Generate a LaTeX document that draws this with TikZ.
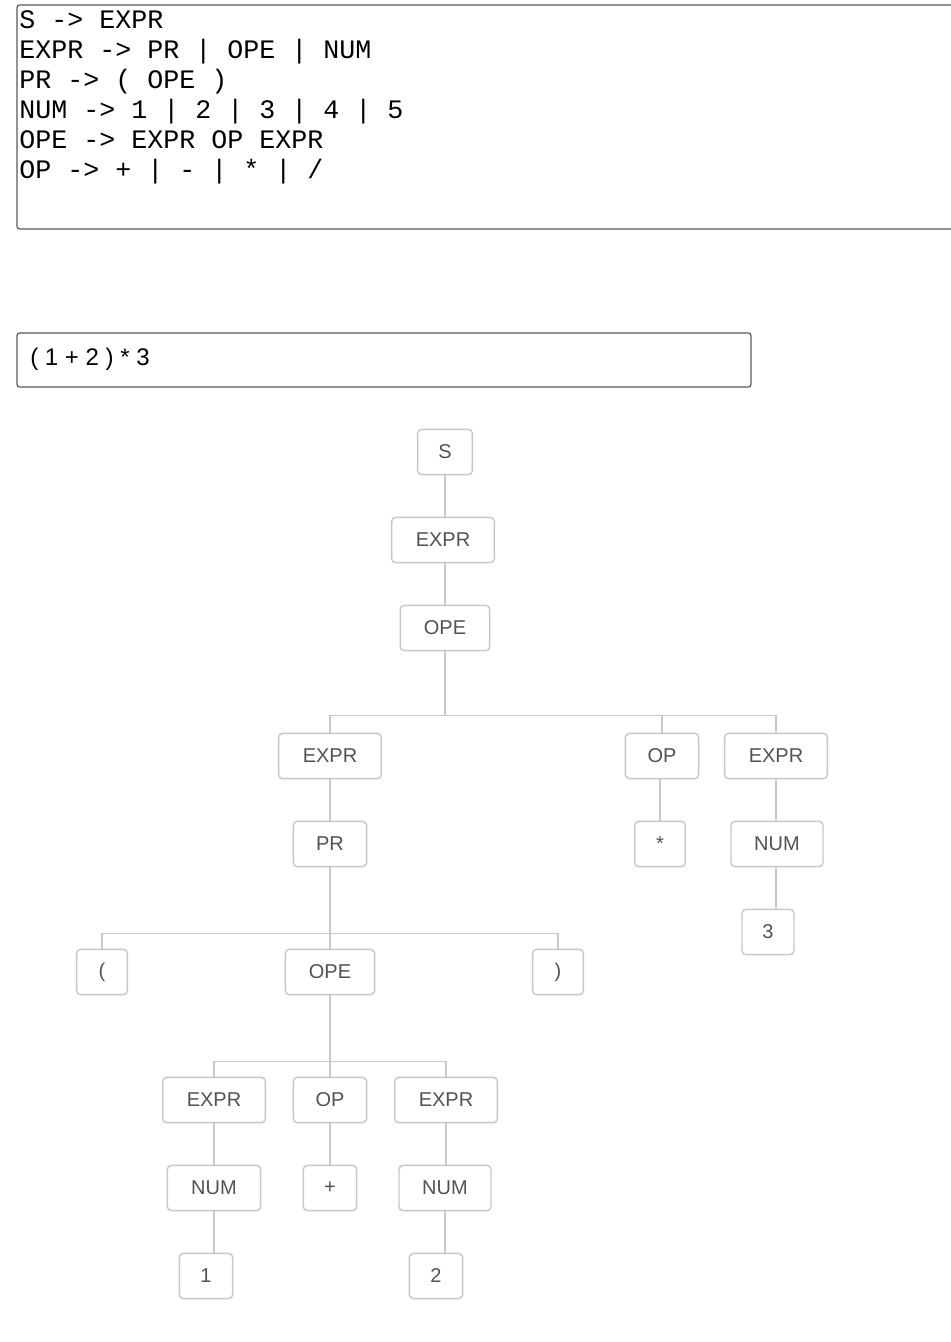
\documentclass[tikz,border=0pt]{standalone}
\usepackage{fontspec}
\setmainfont{Liberation Sans}
\newfontfamily\monof{Liberation Mono}
\begin{document}
\begin{tikzpicture}[x=0.75pt,y=-0.75pt,
  tn/.style={draw=black!22,line width=1.1pt,rounded corners=3pt,minimum height=34pt,inner sep=0pt,text=black!68,font=\fontsize{15}{18}\selectfont},
  ed/.style={draw=black!22,line width=1.1pt}]
\useasboundingbox (0,0) rectangle (950,1342);
\draw[black!65,line width=0.9pt,rounded corners=2pt] (17,5) rectangle (960,229);
\node[anchor=north west,align=left,inner sep=0pt,font=\monof\fontsize{20}{22.5}\selectfont] (g) at (19,10) {S -> EXPR\\EXPR -> PR | OPE | NUM\\PR -> ( OPE )\\NUM -> 1 | 2 | 3 | 4 | 5\\OPE -> EXPR OP EXPR\\OP -> + | - | * | /};
\draw[black!65,line width=0.9pt,rounded corners=2pt] (17,333) rectangle (751,387);
\node[anchor=west,inner sep=0pt,font=\fontsize{18}{20}\selectfont] (in) at (30,359) {( 1 + 2 ) * 3};
% nodes
\node[tn,minimum width=41pt] (s) at (445,452) {S};
\node[tn,minimum width=77pt] (e0) at (443,540) {EXPR};
\node[tn,minimum width=67pt] (o0) at (445,628) {OPE};
\node[tn,minimum width=77pt] (e1) at (330,756) {EXPR};
\node[tn,minimum width=55pt] (op1) at (662,756) {OP};
\node[tn,minimum width=77pt] (e2) at (776,756) {EXPR};
\node[tn,minimum width=55pt] (pr) at (330,844) {PR};
\node[tn,minimum width=38pt] (star) at (660,844) {*};
\node[tn,minimum width=69pt] (n3) at (777,844) {NUM};
\node[tn,minimum width=39pt] (t3) at (768,932) {3};
\node[tn,minimum width=38pt] (lp) at (102,972) {(};
\node[tn,minimum width=67pt] (o1) at (330,972) {OPE};
\node[tn,minimum width=38pt] (rp) at (558,972) {)};
\node[tn,minimum width=77pt] (e3) at (214,1100) {EXPR};
\node[tn,minimum width=55pt] (op2) at (330,1100) {OP};
\node[tn,minimum width=77pt] (e4) at (446,1100) {EXPR};
\node[tn,minimum width=70pt] (n1) at (214,1188) {NUM};
\node[tn,minimum width=40pt] (plus) at (330,1188) {+};
\node[tn,minimum width=69pt] (n2) at (445,1188) {NUM};
\node[tn,minimum width=40pt] (t1) at (206,1276) {1};
\node[tn,minimum width=40pt] (t2) at (436,1276) {2};
% edges
\draw[ed] (s.south) -- (s.south |- e0.north);
\draw[ed] (e0.south -| s) -- (s |- o0.north);
\draw[ed] (o0.south) -- ++(0,64) coordinate (b1);
\draw[ed] (e1.north) |- (b1) -| (op1.north);
\draw[ed] (b1 -| op1) -| (e2.north);
\draw[ed] (e1.south) -- (pr.north);
\draw[ed] (op1.south -| star) -- (star.north);
\draw[ed] (e2.south) -- (e2.south |- n3.north);
\draw[ed] (n3.south -| e2) -- (e2 |- t3.north);
\draw[ed] (pr.south) -- ++(0,66) coordinate (b2);
\draw[ed] (lp.north) |- (b2) -- (o1.north);
\draw[ed] (b2) -| (rp.north);
\draw[ed] (o1.south) -- ++(0,66) coordinate (b3);
\draw[ed] (e3.north) |- (b3) -- (op2.north);
\draw[ed] (b3) -| (e4.north);
\draw[ed] (e3.south) -- (n1.north);
\draw[ed] (op2.south) -- (plus.north);
\draw[ed] (e4.south) -- (e4.south |- n2.north);
\draw[ed] (n1.south) -- (n1.south |- t1.north);
\draw[ed] (n2.south) -- (n2.south |- t2.north);
\end{tikzpicture}
\end{document}
